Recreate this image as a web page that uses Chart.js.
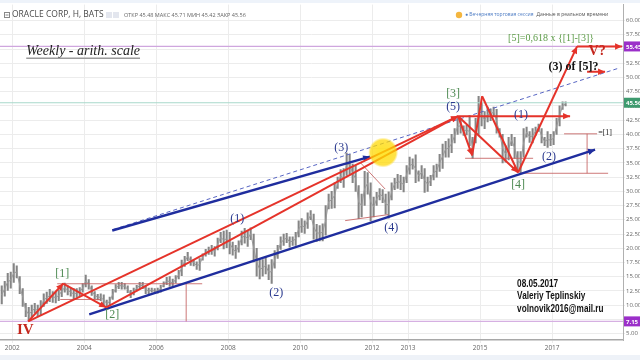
<!DOCTYPE html>
<html><head><meta charset="utf-8">
<script src="https://cdn.jsdelivr.net/npm/chart.js@4.4.1/dist/chart.umd.min.js"></script>
<style>html,body{margin:0;padding:0;background:#fff;}canvas{display:block;}</style>
</head><body>
<canvas id="c" width="640" height="360" style="width:640px;height:360px"></canvas>
<script>
// ---- price data: monthly low / high, Sep 2001 .. May 2017 ----
const firstMonth = '2001-09';
const lows = [
  10.2, 11.6, 12.6, 13.0,                                              // 2001 Sep-Dec
  14.0, 14.8, 12.0, 9.8, 8.0, 7.15, 7.8, 8.6, 8.0, 8.2, 9.8, 10.3,     // 2002
  10.6, 10.5, 10.4, 10.8, 11.5, 12.3, 11.8, 11.6, 11.0, 11.4, 11.6, 12.3, // 2003
  13.2, 12.8, 11.7, 11.1, 10.9, 10.8, 10.0, 9.7, 9.9, 11.0, 12.3, 12.9,  // 2004
  12.8, 12.8, 12.2, 11.3, 11.8, 12.5, 12.9, 12.9, 12.0, 12.0, 12.3, 12.0, // 2005
  12.1, 12.3, 13.2, 13.6, 13.3, 13.1, 13.9, 14.6, 15.2, 16.8, 17.8, 17.0, // 2006
  16.9, 16.3, 16.1, 17.9, 18.6, 18.9, 18.9, 18.6, 19.7, 21.0, 19.9, 20.1, // 2007
  19.0, 18.8, 18.2, 19.3, 20.6, 20.9, 20.3, 21.5, 17.6, 15.1, 14.6, 15.1, // 2008
  15.5, 14.5, 13.8, 16.5, 18.2, 19.8, 20.5, 21.0, 20.2, 20.5, 20.5, 22.0, // 2009
  22.8, 22.6, 23.5, 25.0, 21.6, 21.2, 21.3, 21.3, 22.3, 26.9, 27.0, 27.1, // 2010
  30.5, 31.5, 30.7, 32.8, 33.0, 31.5, 30.0, 25.2, 25.5, 27.5, 29.5, 24.8, // 2011
  25.5, 27.5, 28.5, 28.0, 26.0, 25.3, 28.5, 30.3, 30.5, 30.3, 29.9, 31.5, // 2012
  33.0, 33.9, 31.5, 31.8, 32.2, 29.8, 30.0, 31.0, 32.0, 32.5, 33.5, 34.0, // 2013
  36.0, 36.0, 36.8, 38.5, 40.0, 40.2, 39.8, 39.9, 38.0, 35.8, 38.5, 40.0, // 2014
  41.5, 41.0, 42.2, 42.4, 43.2, 40.2, 39.5, 35.0, 35.1, 35.5, 38.0, 35.8, // 2015
  33.5, 33.1, 36.0, 39.5, 38.6, 38.5, 39.8, 40.5, 38.5, 38.0, 37.7, 38.0, // 2016
  38.2, 40.0, 41.5, 44.4, 45.0                                          // 2017 Jan-May
];
const highs = [
  13.4, 14.2, 15.6, 15.8,
  17.3, 16.9, 15.0, 12.9, 10.3, 9.6, 10.0, 10.3, 10.0, 10.8, 12.0, 12.3,
  12.8, 12.4, 12.3, 12.6, 13.4, 13.9, 13.4, 13.0, 12.9, 12.9, 13.1, 13.8,
  15.3, 14.5, 13.4, 12.4, 11.9, 12.0, 11.8, 10.9, 11.4, 12.8, 13.6, 14.0,
  14.0, 13.8, 13.4, 12.6, 13.0, 13.5, 14.0, 14.0, 13.5, 13.0, 13.0, 12.9,
  13.0, 13.5, 14.1, 14.9, 15.0, 14.6, 15.2, 16.1, 17.9, 18.6, 19.3, 18.5,
  18.0, 17.6, 18.2, 19.0, 19.8, 20.2, 20.5, 20.3, 21.8, 22.8, 23.0, 23.2,
  22.8, 21.1, 20.5, 21.3, 23.0, 23.5, 23.0, 23.6, 22.5, 20.0, 18.0, 18.0,
  18.5, 17.1, 18.0, 19.6, 20.5, 22.0, 22.5, 22.6, 22.0, 22.0, 22.8, 24.8,
  25.2, 24.8, 26.2, 26.6, 26.0, 24.2, 24.0, 24.3, 27.5, 29.5, 30.0, 31.5,
  32.5, 33.8, 34.0, 36.7, 36.5, 34.8, 34.5, 31.0, 29.5, 33.5, 33.3, 31.5,
  29.0, 29.8, 30.5, 30.3, 29.5, 29.9, 31.5, 32.3, 33.0, 32.8, 32.5, 34.5,
  36.0, 35.7, 36.4, 33.6, 34.5, 34.0, 32.5, 32.8, 34.5, 34.8, 36.5, 38.3,
  38.8, 39.2, 40.0, 41.0, 42.8, 42.8, 41.5, 41.6, 43.0, 39.5, 42.8, 46.7,
  45.5, 44.0, 44.8, 44.5, 44.8, 44.4, 41.0, 40.0, 38.0, 39.5, 40.0, 39.5,
  37.0, 37.0, 41.0, 41.3, 40.5, 41.0, 41.3, 41.8, 41.0, 39.5, 40.5, 40.0,
  40.5, 42.8, 45.0, 45.7, 45.7
];
// axis ticks
const yearTicks = [2002, 2004, 2006, 2008, 2010, 2012, 2013, 2015, 2017];
const priceTicks = [5, 7.5, 10, 12.5, 15, 17.5, 20, 22.5, 25, 27.5, 30, 32.5, 35, 37.5, 40, 42.5, 45, 47.5, 50, 52.5, 55, 57.5, 60];
// marked price levels
const levelValues = [55.45, 45.56, 7.15];
const levelColors = ['#9b2fc9', '#3d9a6e', '#9b2fc9'];
const levelLineColors = ['#cfa6de', '#a9d9cb', '#d6b0e2'];

// wave trend lines: [t1, p1, t2, p2, arrow]
const redLines = [
  [2002.444, 7.15, 2003.417, 13.8, 1],
  [2003.417, 13.8, 2004.611, 9.6, 1],
  [2002.444, 7.15, 2014.389, 43.2, 1],
  [2004.611, 9.6, 2014.389, 43.2, 1],
  [2014.389, 43.2, 2014.778, 36.3, 1],
  [2014.778, 36.3, 2015.056, 46.7, 0],
  [2015.056, 46.7, 2016.056, 33.3, 0],
  [2014.389, 43.2, 2016.056, 33.3, 1],
  [2016.056, 33.3, 2017.694, 55.45, 1],
  [2017.694, 55.45, 2018.944, 55.45, 1],
  [2014.389, 43.2, 2017.5, 43.2, 1],
  [2017.972, 51.0, 2018.472, 51.0, 1]
];
const blueLines = [
  [2004.778, 23.12, 2011.944, 36.1, 1],
  [2004.139, 8.39, 2018.194, 37.31, 1]
];
const dashedLines = [
  [2004.806, 23.29, 2018.889, 51.71]
];
const thinLines = [
  [2003.25, 13.76, 2007.278, 13.76],
  [2006.833, 13.76, 2006.833, 7.15],
  [2003.333, 11.0, 2004.444, 11.0],
  [2011.25, 24.85, 2012.444, 25.9],
  [2011.667, 35.08, 2012.361, 30.4],
  [2014.583, 35.8, 2016.472, 35.8],
  [2016.111, 33.17, 2018.556, 33.17],
  [2017.333, 40.1, 2018.25, 40.1],
  [2017.972, 40.1, 2017.972, 33.17]
];
const highlight = [2012.306, 36.81];

// wave labels
const labelTexts = ['IV', '[1]', '[2]', '(1)', '(2)', '(3)', '(4)', '(5)', '[3]', '(1)', '(2)', '[4]'];
const labelT = [2002.361, 2003.389, 2004.778, 2008.25, 2009.333, 2011.139, 2012.528, 2014.25, 2014.25, 2016.139, 2016.917, 2016.056];
const labelP = [5.62, 15.5, 8.22, 25.2, 12.2, 37.68, 23.64, 44.78, 47.04, 43.4, 36.1, 31.1];
const labelKind = ['red', 'green', 'green', 'navy', 'navy', 'navy', 'navy', 'navy', 'green', 'navy', 'navy', 'green'];

const notes = {
  title: 'Weekly - arith. scale',
  fib: '[5]=0,618 x {[1]-[3]}',
  of5: '(3) of [5]?',
  v: 'V?',
  eq1: '=[1]',
  sign: ['08.05.2017', 'Valeriy Teplinskiy', 'volnovik2016@mail.ru']
};

function monthToYear(s) { const [y, m] = s.split('-').map(Number); return y + (m - 1) / 12 + 1 / 24; }
const months = [];
{
  const [y0, m0] = firstMonth.split('-').map(Number);
  for (let i = 0; i < lows.length; i++) {
    const m = m0 - 1 + i;
    months.push((y0 + Math.floor(m / 12)) + '-' + String(m % 12 + 1).padStart(2, '0'));
  }
}

const RED = '#e5332a', NAVY = '#1f2d9e', GREEN = '#4e8a52';
const SERIF = '"Liberation Serif", "DejaVu Serif", serif';

function drawArrow(ctx, x1, y1, x2, y2, color) {
  const a = Math.atan2(y2 - y1, x2 - x1), L = 7, H = 3.2;
  ctx.beginPath();
  ctx.moveTo(x2, y2);
  ctx.lineTo(x2 - L * Math.cos(a) + H * Math.sin(a), y2 - L * Math.sin(a) - H * Math.cos(a));
  ctx.lineTo(x2 - L * Math.cos(a) - H * Math.sin(a), y2 - L * Math.sin(a) + H * Math.cos(a));
  ctx.closePath();
  ctx.fillStyle = color; ctx.fill();
}

const annot = {
  id: 'annot',
  beforeDraw(chart) {
    const ctx = chart.ctx;
    ctx.save();
    ctx.fillStyle = '#ffffff'; ctx.fillRect(0, 0, 640, 360);
    ctx.fillStyle = '#eef2f8'; ctx.fillRect(0, 355, 640, 5);
    ctx.fillStyle = '#eef3fa'; ctx.fillRect(0, 0, 640, 3);
    ctx.restore();
  },
  afterDatasetsDraw(chart) {
    const ctx = chart.ctx, X = chart.scales.x, Y = chart.scales.y, ca = chart.chartArea;
    const px = t => X.getPixelForValue(t), py = p => Y.getPixelForValue(p);
    ctx.save();
    ctx.beginPath(); ctx.rect(ca.left, ca.top, ca.right - ca.left, ca.bottom - ca.top); ctx.clip();
    levelValues.forEach((v, i) => {
      ctx.strokeStyle = levelLineColors[i]; ctx.lineWidth = 1.2;
      ctx.beginPath(); ctx.moveTo(ca.left, py(v)); ctx.lineTo(ca.right, py(v)); ctx.stroke();
    });
    ctx.strokeStyle = 'rgba(196,96,96,0.85)'; ctx.lineWidth = 1;
    thinLines.forEach(l => { ctx.beginPath(); ctx.moveTo(px(l[0]), py(l[1])); ctx.lineTo(px(l[2]), py(l[3])); ctx.stroke(); });
    ctx.strokeStyle = '#5866c4'; ctx.lineWidth = 1; ctx.setLineDash([4, 3]);
    dashedLines.forEach(l => { ctx.beginPath(); ctx.moveTo(px(l[0]), py(l[1])); ctx.lineTo(px(l[2]), py(l[3])); ctx.stroke(); });
    ctx.setLineDash([]);
    blueLines.forEach(l => {
      const x1 = px(l[0]), y1 = py(l[1]), x2 = px(l[2]), y2 = py(l[3]);
      ctx.strokeStyle = NAVY; ctx.lineWidth = 2.4;
      ctx.beginPath(); ctx.moveTo(x1, y1); ctx.lineTo(x2, y2); ctx.stroke();
      if (l[4]) drawArrow(ctx, x1, y1, x2, y2, NAVY);
    });
    redLines.forEach(l => {
      const x1 = px(l[0]), y1 = py(l[1]), x2 = px(l[2]), y2 = py(l[3]);
      ctx.strokeStyle = RED; ctx.lineWidth = 2;
      ctx.beginPath(); ctx.moveTo(x1, y1); ctx.lineTo(x2, y2); ctx.stroke();
      if (l[4]) drawArrow(ctx, x1, y1, x2, y2, RED);
    });
    const g = ctx.createRadialGradient(px(highlight[0]), py(highlight[1]), 3, px(highlight[0]), py(highlight[1]), 15);
    g.addColorStop(0, 'rgba(255,222,0,0.8)'); g.addColorStop(0.8, 'rgba(255,215,0,0.72)'); g.addColorStop(1, 'rgba(255,215,0,0)');
    ctx.fillStyle = g;
    ctx.beginPath(); ctx.arc(px(highlight[0]), py(highlight[1]), 15, 0, Math.PI * 2); ctx.fill();
    ctx.restore();

    ctx.save();
    ctx.textAlign = 'center'; ctx.textBaseline = 'middle';
    labelTexts.forEach((s, i) => {
      const k = labelKind[i];
      if (k === 'red') { ctx.font = 'bold 15px ' + SERIF; ctx.fillStyle = '#c4261d'; }
      else if (k === 'green') { ctx.font = '12px ' + SERIF; ctx.fillStyle = GREEN; }
      else { ctx.font = '12px ' + SERIF; ctx.fillStyle = '#2b3a8f'; }
      ctx.fillText(s, px(labelT[i]), py(labelP[i]));
    });
    ctx.textAlign = 'left';
    ctx.font = 'italic 14px ' + SERIF; ctx.fillStyle = '#222';
    const tx = px(2002.389), ty = py(54.6);
    ctx.fillText(notes.title, tx, ty);
    const tw = ctx.measureText(notes.title).width;
    ctx.strokeStyle = '#9a9a9a'; ctx.lineWidth = 1.6;
    ctx.beginPath(); ctx.moveTo(tx, ty + 7); ctx.lineTo(tx + tw, ty + 7); ctx.stroke();
    ctx.font = '10px ' + SERIF; ctx.fillStyle = '#5a9a45';
    ctx.fillText(notes.fib, px(2015.778), py(56.9));
    ctx.font = 'bold 12px ' + SERIF; ctx.fillStyle = '#111';
    ctx.fillText(notes.of5, px(2016.9), py(51.89));
    ctx.textAlign = 'center';
    ctx.font = 'bold 14px ' + SERIF; ctx.fillStyle = '#c4261d';
    ctx.fillText(notes.v, px(2018.25), py(54.5));
    ctx.font = '8px ' + SERIF; ctx.fillStyle = '#222';
    ctx.fillText(notes.eq1, px(2018.472), py(40.26));
    ctx.textAlign = 'left';
    ctx.fillStyle = '#111';
    const sp = [13.75, 11.5, 9.25];
    const sx = px(2016.028);
    notes.sign.forEach((s, i) => {
      ctx.save();
      ctx.translate(sx, py(sp[i]));
      ctx.scale(0.82, 1);
      ctx.font = 'bold 10px "Liberation Sans", "DejaVu Sans", sans-serif';
      ctx.fillText(s, 0, 0);
      ctx.restore();
    });
    ctx.restore();
  },
  afterDraw(chart) {
    const ctx = chart.ctx, Y = chart.scales.y, ca = chart.chartArea;
    ctx.save();
    levelValues.forEach((v, i) => {
      const y = Y.getPixelForValue(v);
      ctx.fillStyle = levelColors[i];
      ctx.fillRect(ca.right + 1, y - 5, 640 - ca.right - 1, 10);
      ctx.fillStyle = '#fff'; ctx.font = 'bold 6px "Open Sans", sans-serif';
      ctx.textAlign = 'left'; ctx.textBaseline = 'middle';
      ctx.fillText(v.toFixed(2), ca.right + 3, y + 0.5);
    });
    ctx.textBaseline = 'middle'; ctx.textAlign = 'left';
    ctx.strokeStyle = '#888'; ctx.lineWidth = 1;
    ctx.strokeRect(4.5, 12.5, 5, 5);
    ctx.beginPath(); ctx.moveTo(5.5, 15); ctx.lineTo(8.5, 15); ctx.stroke();
    ctx.font = '8.5px "Open Sans", sans-serif'; ctx.fillStyle = '#4a4a4a';
    ctx.fillText('ORACLE CORP, H, BATS -', 12, 15);
    ctx.fillStyle = '#e3e6ee'; ctx.fillRect(106, 12, 6, 6); ctx.fillRect(113, 12, 6, 6);
    ctx.font = '5.5px "Open Sans", sans-serif'; ctx.fillStyle = '#666';
    ctx.fillText('ОТКР 45.48 МАКС 45.71 МИН 45.42 ЗАКР 45.56', 124, 15);
    ctx.fillStyle = '#f4b63f'; ctx.beginPath(); ctx.arc(459, 15, 3.2, 0, Math.PI * 2); ctx.fill();
    ctx.font = '5px "Open Sans", sans-serif';
    ctx.fillStyle = '#4d7cc4';
    const s1 = '● Вечерняя торговая сессия';
    ctx.fillText(s1, 465, 15);
    const w1 = ctx.measureText(s1).width;
    ctx.fillStyle = '#555';
    ctx.fillText('Данные в реальном времени', 465 + w1 + 3, 15);
    ctx.restore();
  }
};

Chart.defaults.font.family = '"Open Sans", "DejaVu Sans", sans-serif';
new Chart(document.getElementById('c'), {
  type: 'bar',
  data: {
    datasets: [{
      type: 'line',
      data: months.map((m, i) => ({ x: monthToYear(m), y: (lows[i] + highs[i]) / 2 })),
      borderColor: '#9a9a9a', borderWidth: 1, pointRadius: 0, tension: 0
    }, {
      data: months.map((m, i) => ({ x: monthToYear(m), y: [lows[i], highs[i]] })),
      backgroundColor: '#858585',
      barThickness: 1.4,
      borderWidth: 0
    }]
  },
  options: {
    responsive: false, animation: false,
    layout: { padding: 0 },
    plugins: { legend: { display: false }, tooltip: { enabled: false } },
    scales: {
      x: {
        type: 'linear', offset: false, min: 2001.66, max: 2018.97,
        afterBuildTicks: s => { s.ticks = yearTicks.map(v => ({ value: v })); },
        afterFit: s => { s.height = 20; },
        ticks: { autoSkip: false, maxRotation: 0, font: { size: 6.5 }, color: '#666', padding: 1, callback: v => String(v) },
        grid: { color: '#ececec', tickLength: 3, offset: false },
        border: { color: '#a8a8a8', width: 1.5 }
      },
      y: {
        position: 'right', min: 3.88, max: 62.8,
        afterBuildTicks: s => { s.ticks = priceTicks.map(v => ({ value: v })); },
        afterFit: s => { s.width = 17; },
        ticks: { autoSkip: false, font: { size: 6 }, color: '#666', padding: 1, callback: v => v.toFixed(2) },
        grid: { color: '#ececec', tickLength: 2 },
        border: { color: '#b0b0b0' }
      }
    }
  },
  plugins: [annot]
});
</script>
</body></html>
